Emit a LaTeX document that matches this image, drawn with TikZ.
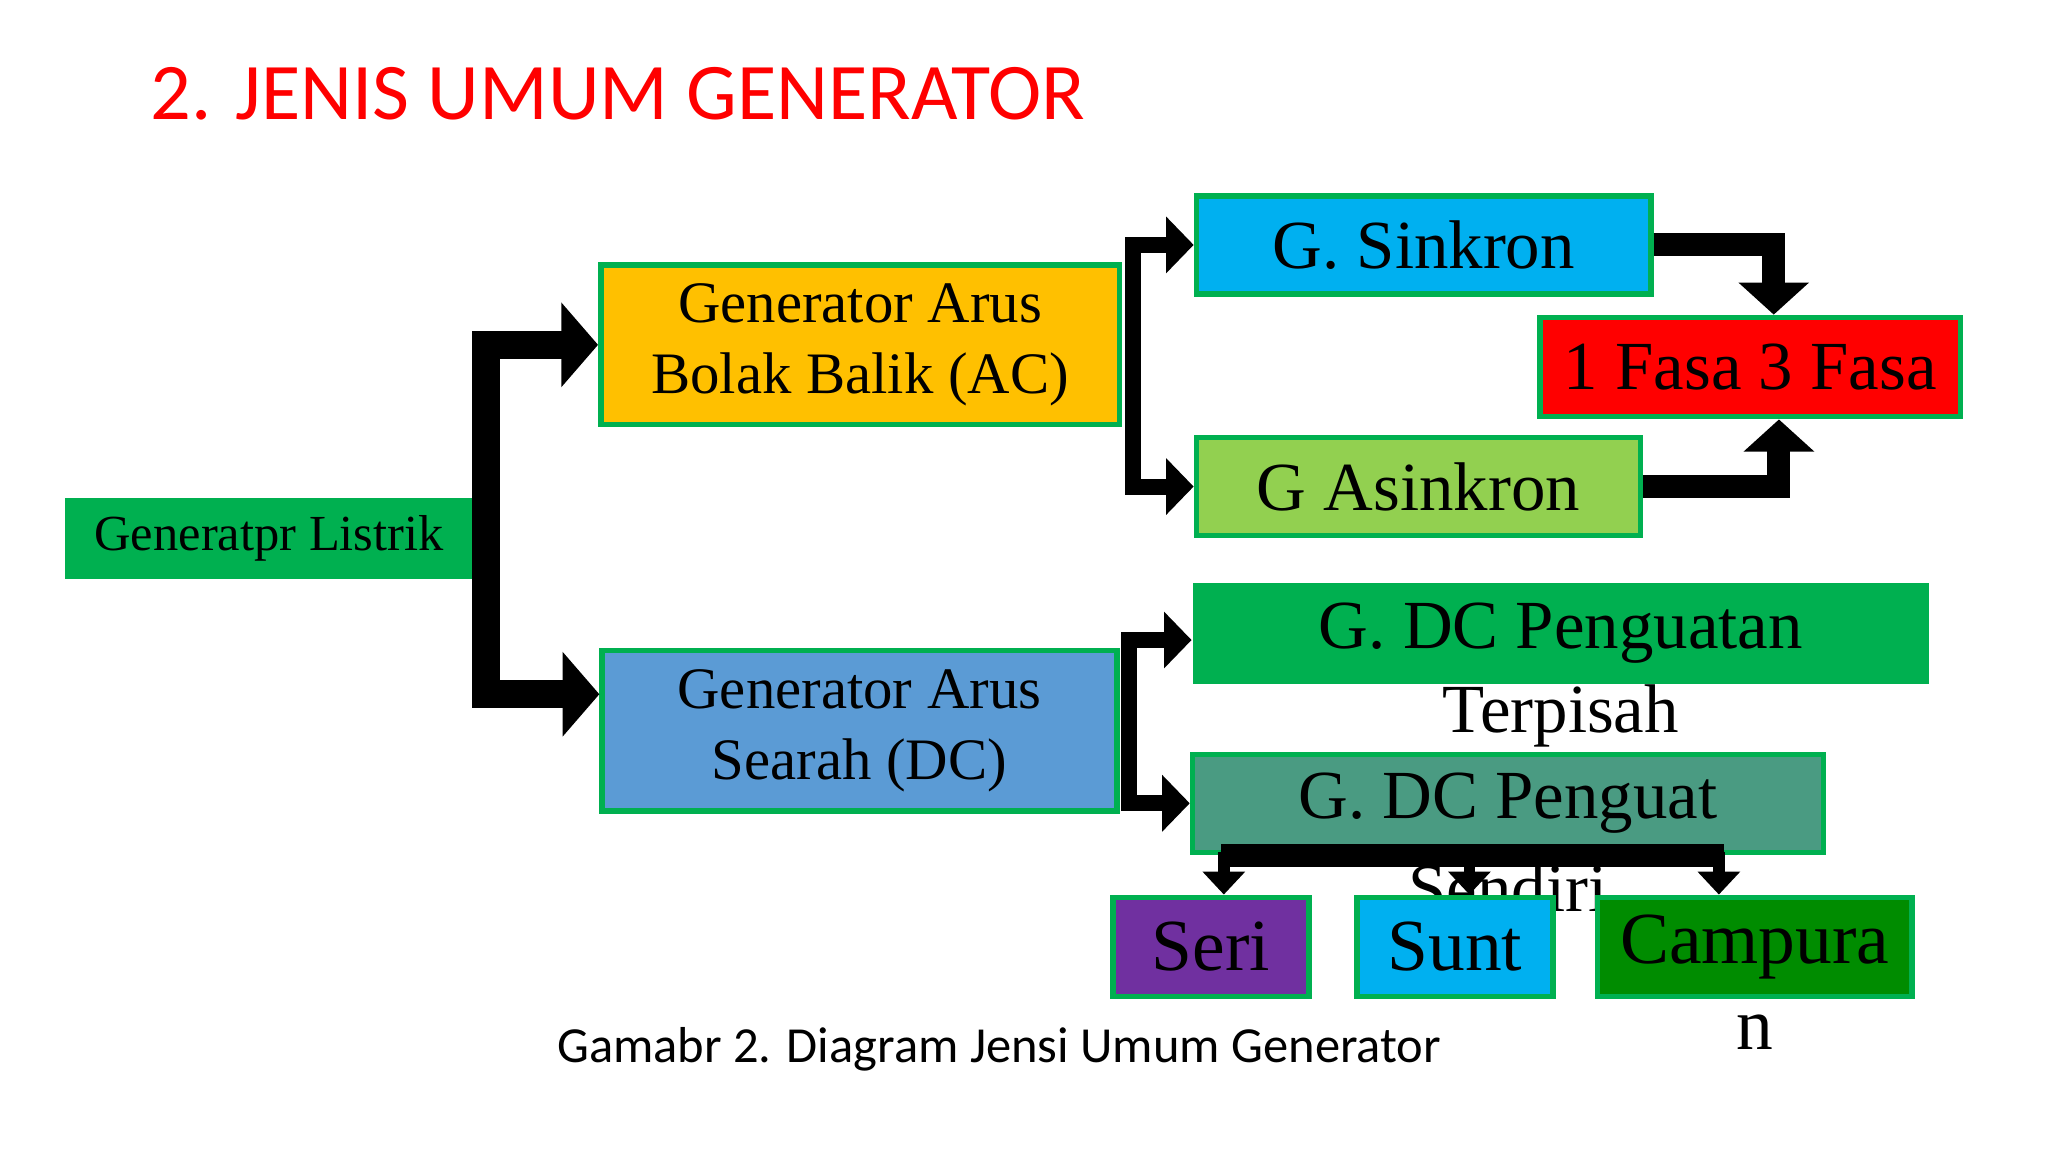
\documentclass[tikz,border=0pt]{standalone}
\usepackage{fontspec}
\setmainfont{Liberation Serif}
\newfontfamily\capfont{Carlito}
\usetikzlibrary{calc, arrows.meta}
\definecolor{cgreen}{RGB}{0,176,80}
\definecolor{corange}{RGB}{255,192,0}
\definecolor{cblue}{RGB}{91,155,213}
\definecolor{ccyan}{RGB}{0,176,240}
\definecolor{clime}{RGB}{146,208,80}
\definecolor{cred}{RGB}{255,0,0}
\definecolor{cteal}{RGB}{74,155,130}
\definecolor{cpurple}{RGB}{112,48,160}
\definecolor{cdgreen}{RGB}{0,140,0}
\tikzset{
	box/.style={draw=cgreen, line width=1.2pt, inner sep=0pt, align=center},
	fat/.style={line width=6pt, -{Triangle[length=8pt, width=18pt]}},
	mid/.style={line width=3.5pt, -{Triangle[length=6pt, width=12pt]}},
	thin/.style={line width=2.5pt, -{Triangle[length=5pt, width=9pt]}}
}
\begin{document}
\begin{tikzpicture}[x=1cm, y=-1cm]
	\useasboundingbox (0, 0) rectangle (15.68, 8.82);

	\node[anchor=west, text=red, font=\capfont\fontsize{17.5}{21}\selectfont] (title) at (1.03, 0.72) {2. JENIS UMUM GENERATOR};

	\node[fill=cgreen, inner sep=0pt, minimum width=3.12cm, minimum height=0.62cm, font=\fontsize{11}{13}\selectfont] (gen) at (2.06, 4.12) {Generatpr Listrik};

	\node[box, fill=corange, minimum width=3.97cm, minimum height=1.22cm, font=\fontsize{12.8}{15.5}\selectfont] (ac) at (6.585, 2.64) {Generator Arus\\Bolak Balik (AC)};
	\node[box, fill=cblue, minimum width=3.94cm, minimum height=1.23cm, font=\fontsize{12.8}{15.5}\selectfont] (dc) at (6.58, 5.595) {Generator Arus\\Searah (DC)};

	\node[box, fill=ccyan, minimum width=3.48cm, minimum height=0.75cm, font=\fontsize{15}{18}\selectfont] (sin) at (10.9, 1.875) {G. Sinkron};
	\node[box, fill=clime, minimum width=3.4cm, minimum height=0.75cm, font=\fontsize{15}{18}\selectfont] (asin) at (10.86, 3.725) {G Asinkron};
	\node[box, fill=cred, minimum width=3.22cm, minimum height=0.76cm, font=\fontsize{15}{18}\selectfont] (fasa) at (13.4, 2.81) {1 Fasa 3 Fasa};

	\node[fill=cgreen, inner sep=0pt, minimum width=5.64cm, minimum height=0.77cm, font=\fontsize{15}{18}\selectfont] (sep) at (11.95, 4.85) {G. DC Penguatan};
	\node[font=\fontsize{15}{18}\selectfont] (sept) at (11.95, 5.48) {Terpisah};
	\node[box, fill=cteal, minimum width=4.83cm, minimum height=0.75cm, font=\fontsize{15}{18}\selectfont] (sen) at (11.545, 6.15) {G. DC Penguat};
	\node[font=\fontsize{15}{18}\selectfont] (sent) at (11.545, 6.8) {Sendiri};

	% branches
	\draw[fat] (3.72, 4.3) |- (ac.west);
	\draw[fat] (3.72, 3.9) |- ($(dc.west) + (0, -0.28)$);
	\draw[mid] (ac.east) ++(0.08, 0) |- (sin.west);
	\draw[mid] ($(ac.east) + (0.08, 0)$) |- (asin.west);
	\draw[mid] (dc.east) ++(0.07, 0) |- ($(sep.west) + (0, 0.05)$);
	\draw[mid] ($(dc.east) + (0.07, 0)$) |- (sen.west);
	\draw[line width=5pt, -{Triangle[length=7pt, width=15pt]}] (sin.east) -| (fasa.north -| 13.58, 0);
	\draw[line width=5pt, -{Triangle[length=7pt, width=15pt]}] (asin.east) -| (fasa.south -| 13.62, 0);

	\node[box, fill=cpurple, minimum width=1.5cm, minimum height=0.76cm, font=\fontsize{16}{19}\selectfont] (seri) at (9.27, 7.25) {Seri};
	\node[box, fill=ccyan, minimum width=1.5cm, minimum height=0.76cm, font=\fontsize{16}{19}\selectfont] (sunt) at (11.14, 7.25) {Sunt};
	\node[box, fill=cdgreen, minimum width=2.41cm, minimum height=0.76cm, font=\fontsize{16}{19}\selectfont] (camp) at (13.435, 7.25) {Campura};
	\node[font=\fontsize{16}{19}\selectfont] (campt) at (13.435, 7.9) {n};

	\coordinate (bar) at (9.35, 6.55);
	\draw[line width=5pt] (bar) -- (13.2, 6.55);
	\draw[thin] (9.37, 6.52) -- (seri.north -| 9.37, 0);
	\draw[thin] (11.25, 6.52) -- (sunt.north -| 11.25, 0);
	\draw[thin] (13.16, 6.52) -- (camp.north -| 13.16, 0);

	\node[font=\capfont\fontsize{11}{13}\selectfont] (cap) at (7.65, 8.03) {Gamabr 2. Diagram Jensi Umum Generator};
\end{tikzpicture}
\end{document}
